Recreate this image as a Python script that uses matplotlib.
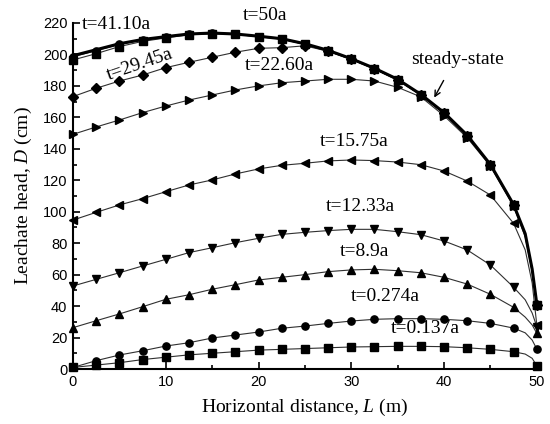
import matplotlib
matplotlib.use("Agg")
import matplotlib.pyplot as plt
from matplotlib.ticker import MultipleLocator

plt.rcParams['mathtext.fontset'] = 'custom'
plt.rcParams['mathtext.it'] = 'Liberation Serif:italic'
plt.rcParams['mathtext.rm'] = 'Liberation Serif'

x = [0, 2.5, 5, 7.5, 10, 12.5, 15, 17.5, 20, 22.5, 25, 27.5, 30, 32.5, 35, 37.5, 40, 42.5, 45, 47.5, 50]
# extra points read along the steep drop near the right boundary (line only)
x_tail = [48.75, 49.5]

t0137 = [1, 2.5, 4, 6, 7.5, 9, 10, 11, 12, 12.5, 13, 13.5, 14, 14.2, 14.4, 14.4, 14.2, 13.5, 12.5, 11, 2]
t0274 = [1, 5.3, 8.9, 11.6, 14.6, 16.7, 19.7, 21.6, 23.5, 25.9, 27.3, 29, 30.5, 31.6, 32, 32, 31.6, 30.7, 29, 26, 12.7]
t89 = [26.3, 30.7, 35, 39.6, 44.3, 47.2, 50.7, 53.6, 56.6, 58.3, 60, 61.9, 63, 63.4, 62.5, 61.2, 58.3, 54, 47.5, 39.2, 22.7]
t1233 = [52.8, 57, 61.2, 65.5, 69.7, 74, 77.1, 80.3, 83.1, 85.6, 86.9, 88, 88.8, 88.8, 87.3, 85.4, 81.4, 75.7, 66.1, 52, 26.9]
t1575 = [94.7, 99.6, 104.3, 108.3, 112.7, 117, 120.2, 124, 127.2, 129.5, 130.8, 132.3, 132.9, 132.5, 131.6, 129.9, 125.9, 119.5, 110.6, 92.6, 28]
t2260 = [149.2, 153.9, 158.3, 163, 167.2, 171, 174.2, 177.4, 180, 182, 183.1, 184.2, 184.2, 183.1, 179.1, 173, 161, 147, 129, 103.5, 41]
t2945 = [173.2, 178.5, 183.1, 186.9, 191.6, 195, 198.2, 201.4, 203.9, 204.3, 205.5, 202, 196.9, 190.8, 183.8, 174.2, 162.6, 148.2, 129.7, 104, 41]
t4110 = [196.5, 200.5, 205, 208.3, 210.5, 212.5, 213.2, 212.8, 211.3, 209.8, 206.4, 202.2, 196.9, 190.8, 183.8, 174.2, 162.6, 148.2, 129.7, 104, 41]
t50 = [198.6, 202.4, 206.4, 209.2, 210.9, 212.8, 213.4, 212.8, 211.3, 209.8, 206.4, 202.2, 196.9, 190.8, 183.8, 174.2, 162.6, 148.2, 129.7, 104, 41]
steady = [199.2, 203, 206.8, 209.5, 211.3, 213, 213.6, 213, 211.6, 210, 206.8, 202.6, 197.3, 191.2, 184.2, 174.6, 163, 148.6, 130, 104.5, 41.3]

tail0137 = [9.5, 6.8]
tail0274 = [23, 18.4]
tail89 = [33, 28]
tail1233 = [44, 35.6]
tail1575 = [75.7, 54.7]
tail2260 = [84, 62]
tail2945 = [85, 63]
tail4110 = [85.5, 63]
tail50 = [85.5, 63]
tail_steady = [86, 63.5]

series = [
    (t0137, tail0137, 's'), (t0274, tail0274, 'o'), (t89, tail89, '^'),
    (t1233, tail1233, 'v'), (t1575, tail1575, '<'), (t2260, tail2260, '>'),
    (t2945, tail2945, 'D'), (t4110, tail4110, 's'), (t50, tail50, 'o'),
]

def with_tail(vals, tail):
    return list(vals[:-1]) + list(tail) + [vals[-1]]

xl = with_tail(x, x_tail)
mark_idx = list(range(len(x) - 1)) + [len(xl) - 1]

fig = plt.figure(figsize=(5.5, 4.24), dpi=100)
ax = fig.add_axes([0.1327, 0.1297, 0.8433, 0.8161])

for ys, tail, m in series:
    ms = 4.6 if m == 'D' else 5.2
    ax.plot(xl, with_tail(ys, tail), color='#303030', lw=0.8, marker=m, ms=ms,
            markevery=mark_idx, markerfacecolor='black', markeredgecolor='black',
            clip_on=False, zorder=3)
ax.plot(xl, with_tail(steady, tail_steady), color='black', lw=2.2, zorder=4, clip_on=False)

ax.set_xlim(0, 50)
ax.set_ylim(0, 220)
ax.xaxis.set_major_locator(MultipleLocator(10))
ax.xaxis.set_minor_locator(MultipleLocator(5))
ax.yaxis.set_major_locator(MultipleLocator(20))
ax.yaxis.set_minor_locator(MultipleLocator(10))
ax.tick_params(which='both', direction='in', width=1.2, labelsize=10.5, pad=4)
ax.tick_params(which='major', length=5)
ax.tick_params(which='minor', length=3)
for lab in ax.get_xticklabels() + ax.get_yticklabels():
    lab.set_fontfamily('Liberation Sans')
for s in ('top', 'right'):
    ax.spines[s].set_visible(False)
for s in ('left', 'bottom'):
    ax.spines[s].set_linewidth(1.5)

serif = 'Liberation Serif'
ax.set_xlabel(r'Horizontal distance, $\mathit{L}$ (m)', fontsize=14, family=serif, labelpad=6)
ax.set_ylabel(r'Leachate head, $\mathit{D}$ (cm)', fontsize=14, family=serif, labelpad=6)

tk = dict(fontsize=14, family=serif, va='center', ha='left')
ax.text(1.0, 219, 't=41.10a', **tk)
ax.text(18.3, 225, 't=50a', clip_on=False, **tk)
ax.text(7.2, 193.5, 't=29.45a', rotation=19, fontsize=14, family=serif, ha='center', va='center')
ax.text(18.5, 193, 't=22.60a', **tk)
ax.text(26.6, 144.5, 't=15.75a', **tk)
ax.text(27.2, 103.2, 't=12.33a', **tk)
ax.text(28.8, 74.6, 't=8.9a', **tk)
ax.text(30.0, 46, 't=0.274a', **tk)
ax.text(34.3, 25.9, 't=0.137a', **tk)
ax.text(36.5, 196.5, 'steady-state', **tk)
ax.annotate('', xy=(38.8, 171), xytext=(40.1, 185),
            arrowprops=dict(arrowstyle='->', color='black', lw=1))

fig.savefig('out.png', dpi=100)
